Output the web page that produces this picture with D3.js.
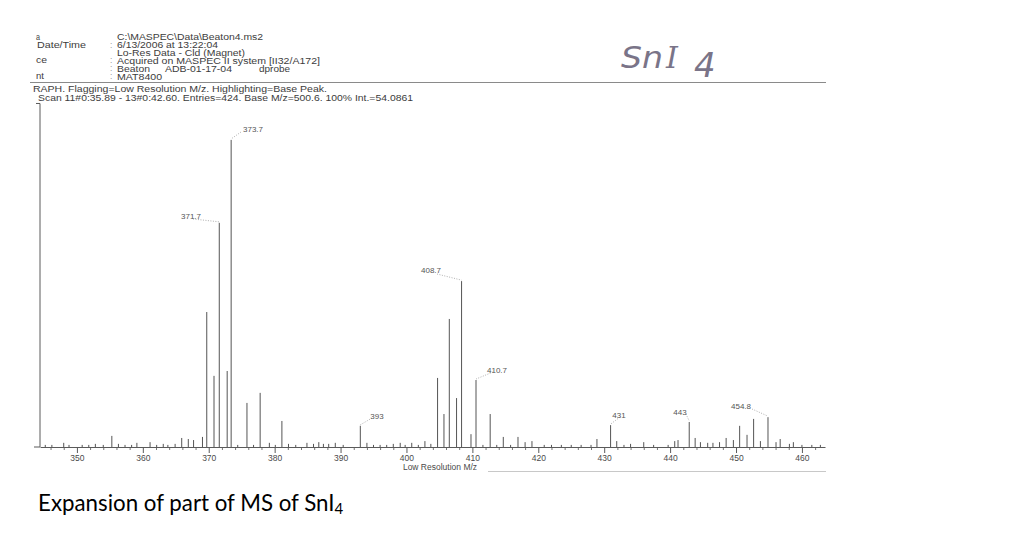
<!DOCTYPE html>
<html>
<head>
<meta charset="utf-8">
<script src="https://cdn.jsdelivr.net/npm/d3@7"></script>
<style>
  html, body { margin: 0; padding: 0; background: #ffffff; }
  svg { display: block; }
</style>
</head>
<body>
<svg id="chart" width="1024" height="534"></svg>
<script>
// ---------------- data ----------------
// m/z positions of the peaks
const peakMz = [
  345.2, 346.2, 348.0, 348.8, 350.8, 351.8, 352.8, 354.0, 355.3, 356.3,
  357.3, 358.3, 359.1, 361.1, 362.1, 363.1, 363.8, 364.9, 365.9, 366.9,
  367.7, 369.05, 369.7, 370.8, 371.6, 372.8, 373.4, 374.4, 375.8, 376.8,
  377.8, 379.2, 380.1, 381.1, 382.1, 383.2, 384.9, 385.9, 386.7, 387.4,
  388.2, 389.2, 390.4, 393.0, 394.0, 395.0, 396.0, 397.0, 398.0, 399.05,
  399.8, 400.8, 401.8, 402.8, 403.7, 404.72, 405.69, 406.5, 407.6, 408.36,
  409.79, 410.55, 411.6, 412.7, 413.7, 414.69, 415.8, 416.92, 418.0, 419.04,
  420.9, 422.0, 423.5, 425.0, 426.5, 428.0, 428.9, 430.97, 431.9, 433.0,
  434.0, 436.0, 437.5, 439.7, 440.7, 441.2, 442.9, 443.8, 444.6, 445.7,
  446.5, 447.5, 448.5, 449.6, 450.55, 451.67, 452.67, 453.7, 454.85, 456.07,
  456.7, 458.1, 458.7, 460.0, 461.5, 462.8
];
// relative intensity (%) of each peak
const peakInt = [
  0.6, 0.6, 1.2, 0.6, 0.6, 0.6, 0.9, 0.6, 3.2, 0.9,
  0.6, 0.6, 1.2, 1.4, 0.6, 0.9, 0.6, 0.9, 2.6, 2.3,
  2.0, 2.9, 38.9, 20.5, 64.6, 21.9, 88.5, 0.6, 12.7, 0.6,
  15.6, 1.2, 0.6, 7.5, 0.9, 0.6, 1.2, 0.9, 1.4, 0.9,
  0.9, 1.2, 0.6, 6.1, 1.2, 0.6, 0.6, 0.6, 0.9, 1.2,
  0.6, 1.2, 0.6, 1.7, 0.9, 19.9, 9.5, 36.9, 14.1, 47.8,
  3.7, 19.3, 0.6, 9.5, 0.6, 2.9, 0.6, 2.9, 1.4, 1.7,
  0.6, 0.6, 0.6, 0.6, 0.6, 0.6, 2.3, 6.3, 1.7, 0.6,
  0.9, 1.4, 0.6, 0.6, 1.7, 2.0, 7.2, 2.6, 1.4, 1.2,
  1.2, 1.4, 2.6, 2.0, 6.1, 3.5, 8.1, 1.7, 8.6, 1.4,
  2.3, 0.9, 1.4, 0.6, 0.6, 0.6
];
// flagged peaks: label text and the m/z of the peak they point to
const labelText = ["371.7", "373.7", "393", "408.7", "410.7", "431", "443", "454.8"];
const labelMz   = [371.6, 373.4, 393.0, 408.36, 410.55, 430.97, 442.9, 454.85];
// axis ticks
const majorTicks = [350, 360, 370, 380, 390, 400, 410, 420, 430, 440, 450, 460];
const xDomain = [344.4, 463.5];
const yDomain = [0, 100];
// header block text
const headerLeft  = ["a", "Date/Time", "ce", "nt"];
const headerRight = [
  "C:\\MASPEC\\Data\\Beaton4.ms2",
  "6/13/2006 at 13:22:04",
  "Lo-Res Data - Cld (Magnet)",
  "Acquired on MASPEC II system [II32/A172]",
  "Beaton",
  "MAT8400"
];
const infoLines = [
  "RAPH. Flagging=Low Resolution M/z. Highlighting=Base Peak.",
  "Scan 11#0:35.89 - 13#0:42.60. Entries=424. Base M/z=500.6. 100% Int.=54.0861"
];
const xTitle = "Low Resolution M/z";
const caption = "Expansion of part of MS of SnI";

// ---------------- drawing ----------------
const svg = d3.select("#chart");
const ink = "#3c3c3c";
const lineInk = "#5a5a5a";

const x = d3.scaleLinear().domain(xDomain).range([40, 825]);
const y = d3.scaleLinear().domain(yDomain).range([447, 100]);

// header texts
const hdr = svg.append("g").attr("font-family", "Liberation Sans, Arial, sans-serif")
  .attr("font-size", 8.4).attr("fill", ink);

const leftRows = [
  {t: headerLeft[0], x: 36, y: 39.5, w: 4},
  {t: headerLeft[1], x: 37, y: 47.5, w: 49},
  {t: headerLeft[2], x: 36, y: 63, w: 11},
  {t: headerLeft[3], x: 36, y: 79, w: 8}
];
leftRows.forEach(r => hdr.append("text").attr("x", r.x).attr("y", r.y).text(r.t)
  .attr("textLength", r.w).attr("lengthAdjust", "spacingAndGlyphs"));

[47.5, 63, 71, 79].forEach(yy => hdr.append("text").attr("x", 110).attr("y", yy).text(":")
  .attr("fill", "#999"));

const rightRows = [
  {t: headerRight[0], y: 39.5, w: 146},
  {t: headerRight[1], y: 47.5, w: 101},
  {t: headerRight[2], y: 55.5, w: 128},
  {t: headerRight[3], y: 63.5, w: 203},
  {t: headerRight[4], y: 71.5, w: 33},
  {t: headerRight[5], y: 79.5, w: 45}
];
rightRows.forEach(r => hdr.append("text").attr("x", 117).attr("y", r.y).text(r.t)
  .attr("textLength", r.w).attr("lengthAdjust", "spacingAndGlyphs"));
hdr.append("text").attr("x", 165).attr("y", 71.5).text("ADB-01-17-04")
  .attr("textLength", 67).attr("lengthAdjust", "spacingAndGlyphs");
hdr.append("text").attr("x", 259).attr("y", 71.5).text("dprobe")
  .attr("textLength", 31).attr("lengthAdjust", "spacingAndGlyphs");

// separator line
svg.append("line").attr("x1", 30).attr("x2", 826).attr("y1", 82.5).attr("y2", 82.5)
  .attr("stroke", "#8a8a8a").attr("stroke-width", 1);

hdr.append("text").attr("x", 33).attr("y", 91.5).text(infoLines[0])
  .attr("textLength", 294).attr("lengthAdjust", "spacingAndGlyphs");
hdr.append("text").attr("x", 38).attr("y", 100.5).text(infoLines[1])
  .attr("textLength", 375).attr("lengthAdjust", "spacingAndGlyphs");

// handwritten note
const hand = svg.append("g").attr("fill", "#7a7488").attr("font-style", "italic");
hand.append("text").attr("x", 621).attr("y", 68).attr("font-size", 30)
  .attr("font-family", "DejaVu Sans").text("Sn")
  .attr("textLength", 42).attr("lengthAdjust", "spacingAndGlyphs");
hand.append("text").attr("x", 666).attr("y", 68).attr("font-size", 30)
  .attr("font-family", "DejaVu Serif").text("I");
hand.append("text").attr("x", 694).attr("y", 77).attr("font-size", 34)
  .attr("font-family", "DejaVu Sans").text("4");

// y axis line
svg.append("path").attr("d", `M36,${y(99)} H40 V447`)
  .attr("fill", "none").attr("stroke", lineInk).attr("stroke-width", 1);

// x axis: baseline, major & minor ticks
const minorTicks = d3.range(346, 464, 2).filter(v => v % 10 !== 0);
svg.append("g").attr("transform", "translate(0,447)")
  .call(d3.axisBottom(x).tickValues(minorTicks).tickSize(3).tickSizeOuter(0).tickFormat(""))
  .call(g => g.select(".domain").remove())
  .selectAll("line").attr("stroke", "#777");

const ax = svg.append("g").attr("transform", "translate(0,447)")
  .call(d3.axisBottom(x).tickValues(majorTicks).tickSize(6).tickSizeOuter(0).tickPadding(2));
ax.select(".domain").attr("stroke", lineInk);
ax.selectAll(".tick line").attr("stroke", lineInk);
ax.selectAll(".tick text").attr("font-family", "Liberation Sans, Arial, sans-serif")
  .attr("font-size", 8.5).attr("fill", "#4a4a4a");
svg.append("line").attr("x1", 34).attr("x2", 40).attr("y1", 447).attr("y2", 447)
  .attr("stroke", lineInk);

svg.append("text").attr("x", 440).attr("y", 470).attr("text-anchor", "middle")
  .attr("font-family", "Liberation Sans, Arial, sans-serif").attr("font-size", 8.5)
  .attr("fill", "#4a4a4a").text(xTitle);

// faint page edge line
svg.append("line").attr("x1", 488).attr("x2", 826).attr("y1", 471.5).attr("y2", 471.5)
  .attr("stroke", "#c8c8c8").attr("stroke-width", 1);

// peaks (sticks)
const peaks = peakMz.map((m, i) => ({m, v: peakInt[i]}));
svg.append("g").selectAll("line").data(peaks).join("line")
  .attr("x1", d => x(d.m)).attr("x2", d => x(d.m))
  .attr("y1", y(0)).attr("y2", d => y(d.v))
  .attr("stroke", "#555").attr("stroke-width", 1);

// flag labels with dotted leaders
const labelPos = {
  "371.7": {lx: 191, ly: 216, ax: 193, ay: 219},
  "373.7": {lx: 253, ly: 129, ax: 241, ay: 132},
  "393":   {lx: 377, ly: 416, ax: 372, ay: 418},
  "408.7": {lx: 431, ly: 270, ax: 437, ay: 274},
  "410.7": {lx: 497, ly: 370, ax: 493, ay: 372},
  "431":   {lx: 619, ly: 415, ax: 620, ay: 417},
  "443":   {lx: 680, ly: 412, ax: 686, ay: 414},
  "454.8": {lx: 741, ly: 406, ax: 752, ay: 409}
};
const lab = svg.append("g");
labelText.forEach((t, i) => {
  const p = labelPos[t];
  const px = x(labelMz[i]);
  const py = y(peaks.find(d => d.m === labelMz[i]).v);
  lab.append("line").attr("x1", p.ax).attr("y1", p.ay).attr("x2", px).attr("y2", py - 1)
    .attr("stroke", "#9a9a9a").attr("stroke-width", 0.8).attr("stroke-dasharray", "1,1.5");
  lab.append("text").attr("x", p.lx).attr("y", p.ly + 3).attr("text-anchor", "middle")
    .attr("font-family", "Liberation Sans, Arial, sans-serif").attr("font-size", 8)
    .attr("fill", "#555").text(t);
});

// caption
const cap = svg.append("text").attr("x", 38).attr("y", 511)
  .attr("font-family", "Lato, 'Open Sans', sans-serif").attr("font-size", 22.3).attr("fill", "#000");
cap.append("tspan").text(caption);
cap.append("tspan").attr("font-size", 15).attr("dy", 3).text("4");
</script>
</body>
</html>
